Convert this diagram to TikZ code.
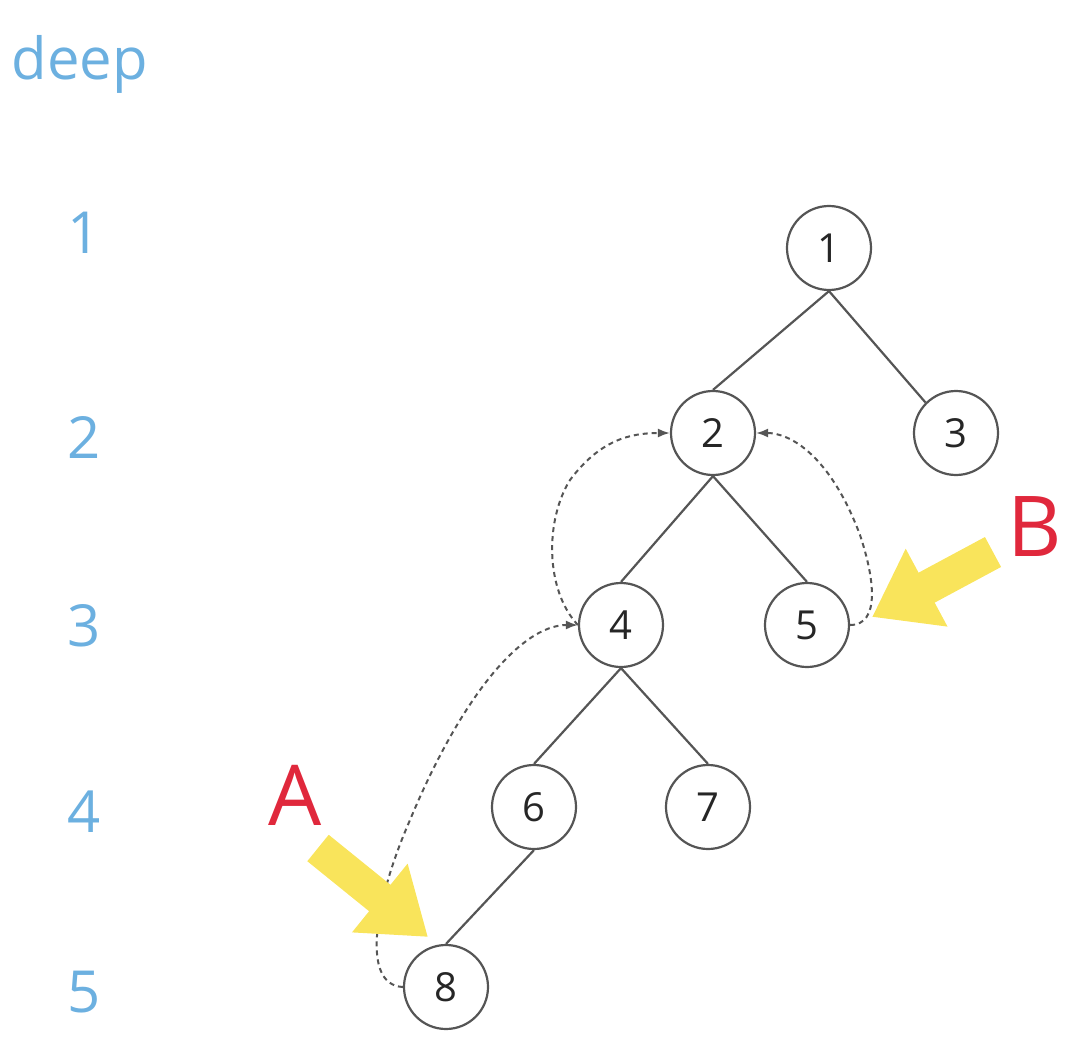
\documentclass[tikz,border=0pt]{standalone}
\usepackage{fontspec}
\setmainfont{Open Sans}
\usetikzlibrary{arrows.meta}
\definecolor{lb}{HTML}{6CB0E0}
\definecolor{rd}{HTML}{E0283C}
\definecolor{yl}{HTML}{F9E45B}
\definecolor{gr}{HTML}{555555}
\begin{document}
\begin{tikzpicture}[x=1pt,y=-1pt,
 nd/.style={circle,draw=gr,line width=2.2pt,minimum size=84pt,inner sep=0pt,font=\fontsize{40}{40}\selectfont,text=black!85},
 ed/.style={gr,line width=2.2pt},
 ds/.style={gr,line width=2pt,dash pattern=on 5pt off 4pt,-{Latex[length=12pt,width=9pt]}},
 lv/.style={lb,font=\fontsize{58}{58}\selectfont},
 big/.style={rd,font=\fontsize{84}{84}\selectfont},
 ya/.style={yl,line width=34pt,-{Triangle[length=62pt,width=84pt]}}]
\useasboundingbox (0,0) rectangle (1080,1046);
\node[lv,anchor=west] (deep) at (8,64) {deep};
\node[lv] (l1) at (84,233) {1};
\node[lv] (l2) at (84,437) {2};
\node[lv] (l3) at (84,626) {3};
\node[lv] (l4) at (84,812) {4};
\node[lv] (l5) at (84,992) {5};
\node[nd] (n1) at (829,248) {1};
\node[nd] (n2) at (713,433) {2};
\node[nd] (n3) at (956,433) {3};
\node[nd] (n4) at (621,625) {4};
\node[nd] (n5) at (807,625) {5};
\node[nd] (n6) at (534,807) {6};
\node[nd] (n7) at (708,807) {7};
\node[nd] (n8) at (446,987) {8};
\draw[ed] (n1.south) -- (n2.north);
\draw[ed] (n1.south) -- (n3.north west);
\draw[ed] (n2.south) -- (n4.north);
\draw[ed] (n2.south) -- (n5.north);
\draw[ed] (n4.south) -- (n6.north);
\draw[ed] (n4.south) -- (n7.north);
\draw[ed] (n6.south) -- (n8.north);
\draw[ds] (n8.west) .. controls (360,985) and (375,900) .. (410,820) .. controls (460,700) and (520,625) .. (n4.west);
\draw[ds] (n4.west) .. controls (545,590) and (545,520) .. (570,480) .. controls (600,440) and (630,433) .. (n2.west);
\draw[ds] (n5.east) .. controls (880,625) and (875,580) .. (860,535) .. controls (830,455) and (790,433) .. (n2.east);
\node[big] (A) at (295,795) {A};
\node[big] (B) at (1035,527) {B};
\coordinate (as) at (318,848);
\coordinate (ae) at (428,937);
\coordinate (bs) at (993,552);
\coordinate (be) at (872,617);
\draw[ya] (as) -- (ae);
\draw[ya] (bs) -- (be);
\end{tikzpicture}
\end{document}
